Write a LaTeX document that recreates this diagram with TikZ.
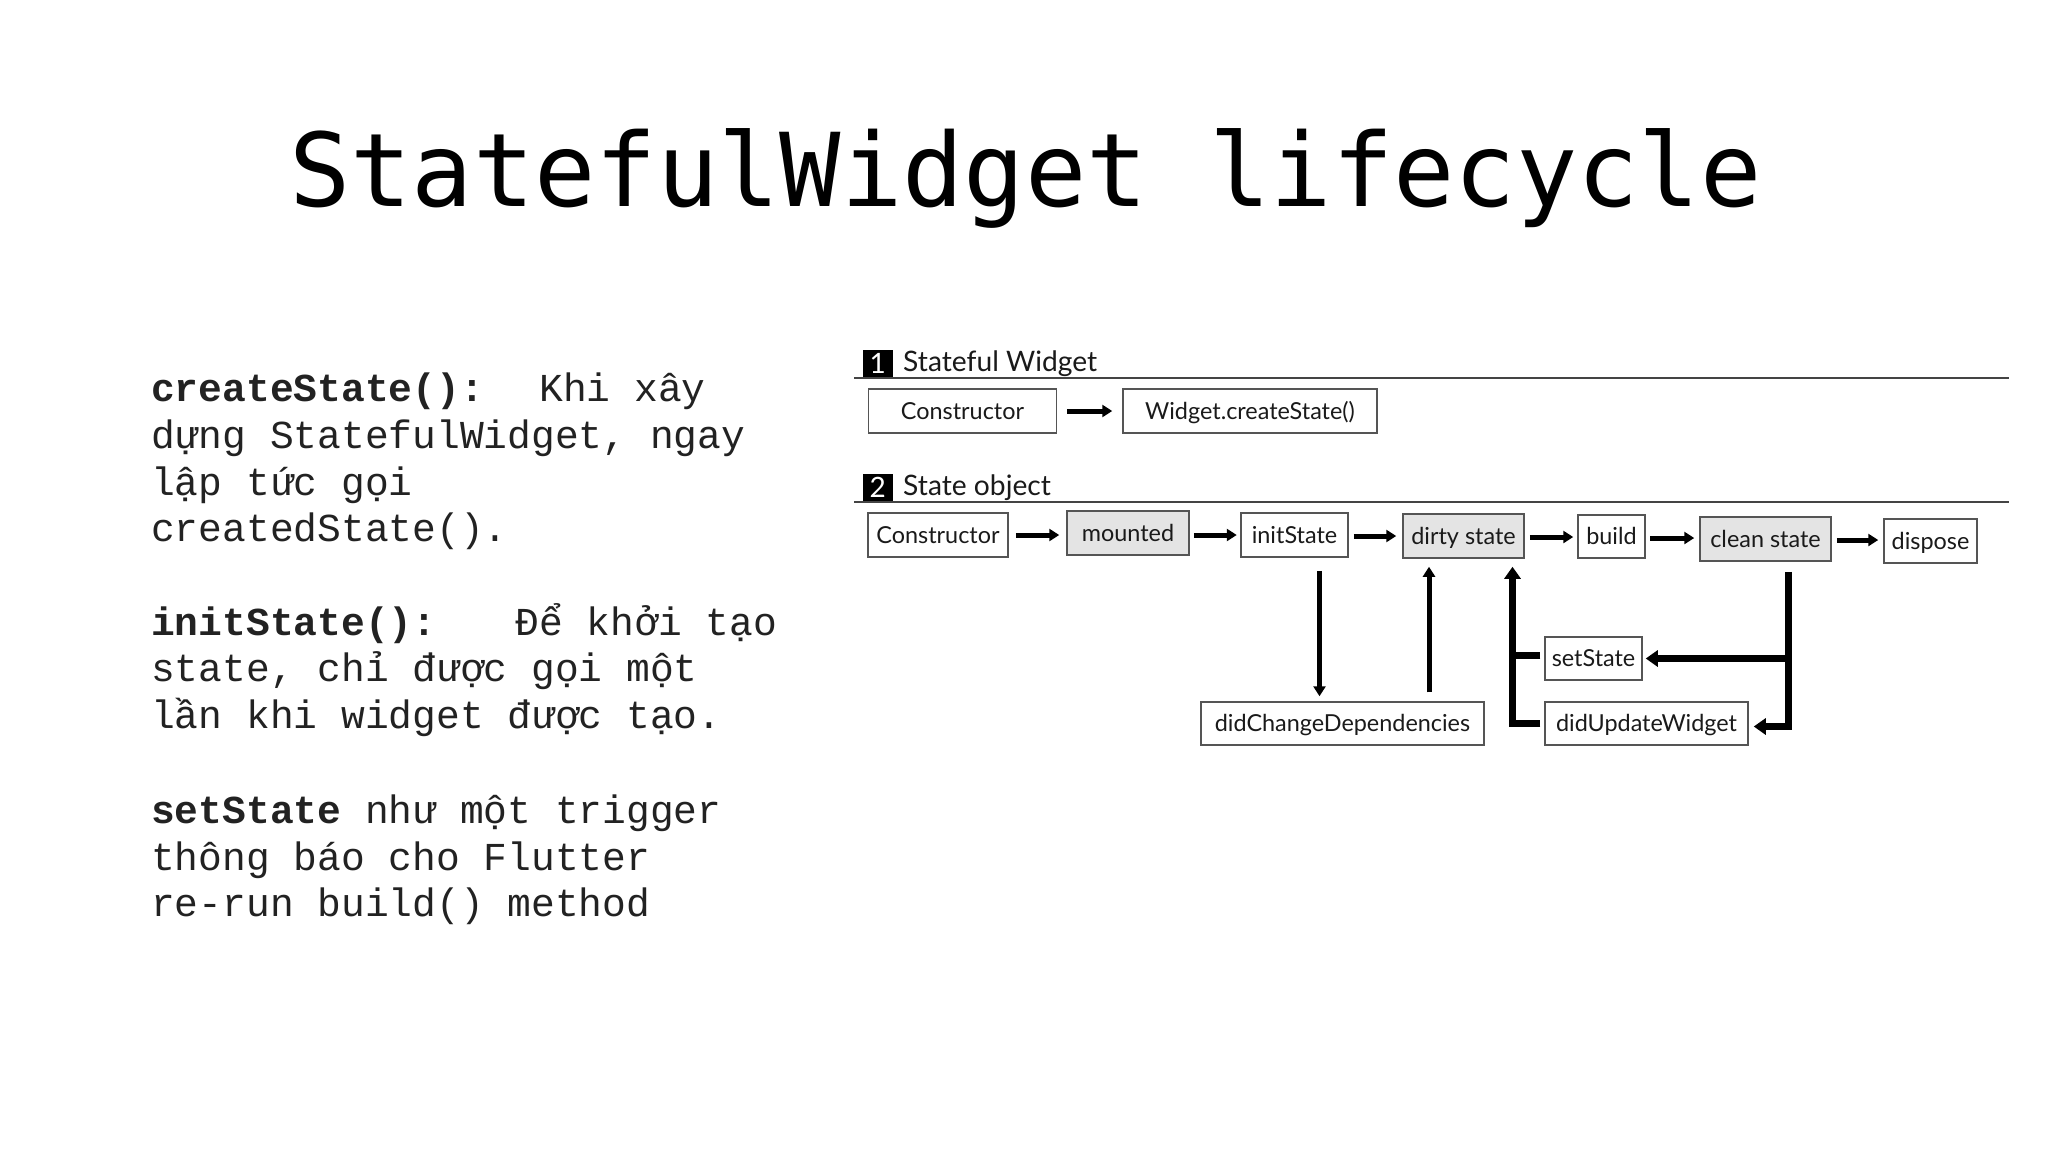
\documentclass[tikz,border=0pt]{standalone}
\usepackage{fontspec}
\setmainfont{Lato}
\newfontfamily\codefont{DejaVu Sans Mono}
\newfontfamily\bodyfont{Liberation Mono}
\usetikzlibrary{arrows.meta}
\definecolor{boxline}{HTML}{555555}
\definecolor{boxgrey}{HTML}{E4E4E4}
\definecolor{ink}{HTML}{1A1A1A}
\definecolor{bodyink}{HTML}{222222}
\definecolor{rulecol}{HTML}{444444}
\begin{document}
\begin{tikzpicture}[x=1pt,y=-1pt,
  box/.style={draw=boxline, line width=1.5pt, fill=white, inner sep=0pt, text=ink,
    font=\fontsize{23.4}{23.4}\selectfont, text height=16.5pt, text depth=0pt},
  greybox/.style={box, fill=boxgrey},
  arr/.style={line width=5pt, black, -{Triangle[length=10pt,width=12pt]}},
  fb/.style={line width=7.5pt, black},
  fbarr/.style={fb, -{Triangle[length=12pt,width=16pt]}},
  bodyline/.style={anchor=base west, inner sep=0pt, text=bodyink,
    font=\bodyfont\fontsize{39.6}{39.6}\selectfont},
  numsq/.style={fill=black, text=white, inner sep=0pt, minimum width=30pt,
    minimum height=27pt, font=\fontsize{28}{28}\selectfont, text height=20pt, text depth=0pt},
  headtxt/.style={anchor=base west, inner sep=0pt, text=ink, font=\fontsize{28.2}{28.2}\selectfont}
]
\useasboundingbox[fill=white] (0,0) rectangle (2048,1152);

% Title
\node[anchor=base west, inner sep=0pt, text=black,
  font=\codefont\fontsize{101.9}{101.9}\selectfont] (title) at (289,206) {StatefulWidget lifecycle};

% Left text
\node[bodyline] (l1) at (151,401.7) {\textbf{createState():}~ Khi xây};
\node[bodyline] (l2) at (151,448.3) {dựng StatefulWidget, ngay};
\node[bodyline] (l3) at (151,495) {lập tức gọi};
\node[bodyline] (l4) at (151,541.7) {createdState().};
\node[bodyline] (l5) at (151,635) {\textbf{initState():}~~ Để khởi tạo};
\node[bodyline] (l6) at (151,681.7) {state, chỉ được gọi một};
\node[bodyline] (l7) at (151,728.3) {lần khi widget được tạo.};
\node[bodyline] (l8) at (151,823.3) {\textbf{setState} như một trigger};
\node[bodyline] (l9) at (151,870) {thông báo cho Flutter};
\node[bodyline] (l10) at (151,916.7) {re-run build() method};

% Section headers
\draw[line width=2pt, rulecol] (854,377.7) coordinate (r1a) -- (2009,377.7) coordinate (r1b);
\draw[line width=2pt, rulecol] (854,501.7) coordinate (r2a) -- (2009,501.7) coordinate (r2b);
\node[numsq] (n1) at (877.7,363.5) {1};
\node[headtxt] (h1) at (903,371.7) {Stateful Widget};
\node[numsq] (n2) at (877.7,487.5) {2};
\node[headtxt] (h2) at (903,495) {State object};

% Row 1
\node[box, minimum width=188pt, minimum height=44pt] (c1) at (962.5,411) {Constructor};
\node[box, minimum width=254pt, minimum height=44pt] (wcs) at (1250,411) {Widget.createState()};

% Row 2
\node[box, minimum width=140pt, minimum height=44pt] (c2) at (938,535) {Constructor};
\node[greybox, minimum width=122pt, minimum height=44pt] (mounted) at (1128,533) {mounted};
\node[box, minimum width=107pt, minimum height=44pt] (init) at (1294.5,535) {initState};
\node[greybox, minimum width=121pt, minimum height=44pt] (dirty) at (1463.5,536) {dirty state};
\node[box, minimum width=67pt, minimum height=43pt] (build) at (1611.5,536.5) {build};
\node[greybox, minimum width=131pt, minimum height=44pt] (clean) at (1765.5,539) {clean state};
\node[box, minimum width=93pt, minimum height=44pt] (dispose) at (1930.5,541) {dispose};

% Lower boxes
\node[box, minimum width=283pt, minimum height=43pt] (dcd) at (1342.5,723.5) {didChangeDependencies};
\node[box, minimum width=97pt, minimum height=43pt] (sst) at (1593.5,658.5) {setState};
\node[box, minimum width=203pt, minimum height=43pt] (duw) at (1646.5,723.5) {didUpdateWidget};

% helper coordinates
\coordinate (bx) at ([xshift=49pt]dirty.south);
\coordinate (cx) at ([xshift=23pt]clean.south);

% Arrows row 1
\draw[arr, shorten <=10pt, shorten >=10pt] (c1.east) -- (c1.east -| wcs.west);

% Arrows row 2
\draw[arr, shorten <=7pt, shorten >=7pt] (c2.east) -- (c2.east -| mounted.west);
\draw[arr, shorten <=4pt, shorten >=3.5pt] ([yshift=-2pt]mounted.east) -- ([yshift=-2pt]mounted.east -| init.west);
\draw[arr, shorten <=5pt, shorten >=6pt] ([yshift=-1pt]init.east) -- ([yshift=-1pt]init.east -| dirty.west);
\draw[arr, shorten <=5pt, shorten >=4pt] ([yshift=-1pt]dirty.east) -- ([yshift=-1pt]dirty.east -| build.west);
\draw[arr, shorten <=4.5pt, shorten >=5pt] ([yshift=-1.5pt]build.east) -- ([yshift=-1.5pt]build.east -| clean.west);
\draw[arr, shorten <=5pt, shorten >=5pt] ([yshift=-1pt]clean.east) -- ([yshift=-1pt]clean.east -| dispose.west);

% Vertical arrows
\draw[arr, shorten <=13pt, shorten >=5pt] ([xshift=25pt]init.south) -- ([xshift=25pt]init.south |- dcd.north);
\draw[arr, shorten <=9pt, shorten >=8pt] ([xshift=86.5pt]dcd.north) -- ([xshift=86.5pt]dcd.north |- dirty.south);

% Bracket from setState / didUpdateWidget to dirty state
\draw[fbarr, shorten <=4pt, shorten >=8pt] (duw.west) -| (bx);
\draw[fb, shorten <=4pt] ([yshift=3pt]sst.west) -- ([yshift=3pt]sst.west -| bx);

% From clean state to setState / didUpdateWidget
\draw[fbarr, shorten <=10pt, shorten >=5pt] (cx) |- ([yshift=-3pt]duw.east);
\draw[fbarr, shorten >=3pt] (cx |- sst.east) -- (sst.east);

\end{tikzpicture}
\end{document}
